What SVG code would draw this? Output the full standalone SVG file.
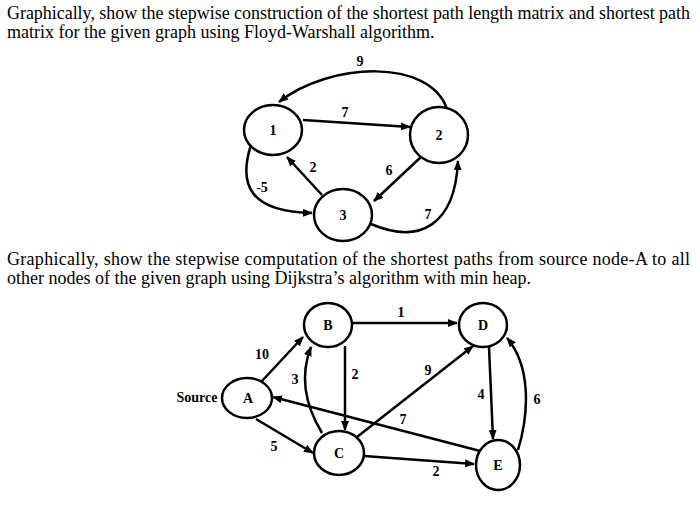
<svg xmlns="http://www.w3.org/2000/svg" width="700" height="511" viewBox="0 0 700 511">
<style>
.t{font-family:"Liberation Serif",serif;font-size:18px;fill:#000}
.l{font-family:"Liberation Serif",serif;font-size:14px;font-weight:bold;fill:#000;text-anchor:middle}
.n{fill:#fff;stroke:#000;stroke-width:2.5}
.e{fill:none;stroke:#000;stroke-width:2.5;marker-end:url(#a)}
</style>
<defs><marker id="a" markerWidth="10" markerHeight="8" refX="9" refY="4" orient="auto" markerUnits="userSpaceOnUse"><path d="M0,0L10,4L0,8z"/></marker></defs>
<rect width="700" height="511" fill="#fff"/>
<text class="t" x="7" y="19" textLength="683" lengthAdjust="spacing">Graphically, show the stepwise construction of the shortest path length matrix and shortest path</text>
<text class="t" x="7" y="38">matrix for the given graph using Floyd-Warshall algorithm.</text>
<text class="t" x="7" y="265" textLength="683" lengthAdjust="spacing">Graphically, show the stepwise computation of the shortest paths from source node-A to all</text>
<text class="t" x="7" y="284">other nodes of the given graph using Dijkstra’s algorithm with min heap.</text>
<g id="connectors">
<path class="e" d="M303,120 L410,127"/>
<path class="e" d="M447,109 C430,58 330,62 279,102"/>
<path class="e" d="M421,157 L374,201"/>
<path class="e" d="M322,195 L287,157"/>
<path class="e" d="M251,145 C238,185 250,212 312,213"/>
<path class="e" d="M371,224 C420,245 455,225 458,161"/>
<path class="e" d="M262,381 L303,337"/>
<path class="e" d="M352,323 L457,323"/>
<path class="e" d="M345,346 L345,430"/>
<path class="e" d="M322,433 C305,405 300,375 311,347"/>
<path class="e" d="M256,419 L313,453"/>
<path class="e" d="M357,437 L473,346"/>
<path class="e" d="M489,347 L493,439"/>
<path class="e" d="M518,450 C530,410 530,365 507,338"/>
<path class="e" d="M484,452 L273,397"/>
<path class="e" d="M364,456 L474,464"/>
</g>
<g class="l">
<text x="360" y="66">9</text><text x="345" y="117">7</text><text x="389" y="175">6</text><text x="313" y="172">2</text><text x="262" y="192">-5</text><text x="428" y="219">7</text>
<text x="262" y="359">10</text><text x="401" y="317">1</text><text x="355" y="379">2</text><text x="295" y="384">3</text><text x="274" y="451">5</text><text x="428" y="375">9</text><text x="481" y="399">4</text><text x="537" y="404">6</text><text x="403" y="424">7</text><text x="436" y="476">2</text>
</g>
<g id="n1"><ellipse class="n" cx="273" cy="130" rx="29" ry="25"/><text class="l" x="273" y="135">1</text></g>
<g id="n2"><ellipse class="n" cx="439" cy="135" rx="29" ry="28"/><text class="l" x="439" y="140">2</text></g>
<g id="n3"><ellipse class="n" cx="343" cy="215" rx="29" ry="26"/><text class="l" x="343" y="220">3</text></g>
<g id="nA"><ellipse class="n" cx="247" cy="398" rx="25" ry="20"/><text class="l" x="248" y="403">A</text></g>
<g id="nB"><ellipse class="n" cx="328" cy="325" rx="24" ry="22"/><text class="l" x="328" y="330">B</text></g>
<g id="nC"><ellipse class="n" cx="339" cy="453" rx="25" ry="22"/><text class="l" x="339" y="458">C</text></g>
<g id="nD"><ellipse class="n" cx="483" cy="325" rx="24" ry="22"/><text class="l" x="483" y="330">D</text></g>
<g id="nE"><ellipse class="n" cx="498" cy="465" rx="22" ry="25"/><text class="l" x="498" y="470">E</text></g>
<text class="l" x="197" y="402">Source</text>
</svg>
